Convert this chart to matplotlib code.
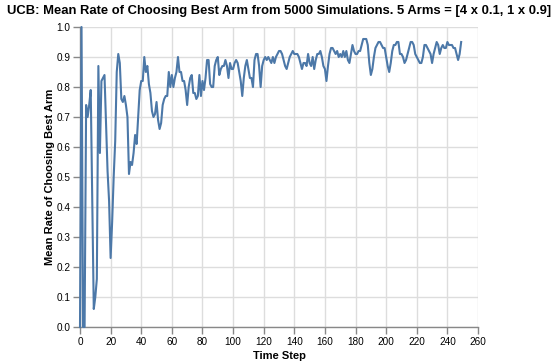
import numpy as np
import matplotlib.pyplot as plt

# mean rate of choosing the best arm (t = 0..249)
rate = [
    0.00, 1.00, 0.00, 0.00, 0.74, 0.70, 0.74, 0.79, 0.42, 0.06,
    0.10, 0.16, 0.87, 0.58, 0.82, 0.83, 0.84, 0.68, 0.52, 0.42,
    0.23, 0.35, 0.50, 0.62, 0.85, 0.91, 0.88, 0.76, 0.75, 0.77,
    0.74, 0.70, 0.51, 0.55, 0.54, 0.58, 0.64, 0.61, 0.70, 0.79,
    0.82, 0.82, 0.90, 0.85, 0.87, 0.81, 0.78, 0.72, 0.70, 0.71,
    0.75, 0.69, 0.66, 0.68, 0.74, 0.76, 0.77, 0.77, 0.85, 0.80,
    0.84, 0.80, 0.83, 0.85, 0.90, 0.85, 0.85, 0.82, 0.82, 0.79,
    0.74, 0.80, 0.83, 0.84, 0.78, 0.78, 0.76, 0.77, 0.84, 0.77,
    0.82, 0.79, 0.83, 0.89, 0.89, 0.81, 0.80, 0.80, 0.87, 0.89,
    0.90, 0.84, 0.86, 0.87, 0.87, 0.89, 0.87, 0.83, 0.88, 0.86,
    0.86, 0.88, 0.89, 0.88, 0.85, 0.82, 0.77, 0.83, 0.87, 0.89,
    0.86, 0.83, 0.83, 0.80, 0.89, 0.91, 0.91, 0.87, 0.80, 0.87,
    0.89, 0.90, 0.89, 0.90, 0.89, 0.88, 0.90, 0.88, 0.90, 0.91,
    0.92, 0.92, 0.91, 0.89, 0.87, 0.86, 0.88, 0.90, 0.91, 0.92,
    0.91, 0.91, 0.91, 0.90, 0.88, 0.86, 0.88, 0.88, 0.87, 0.91,
    0.88, 0.87, 0.90, 0.86, 0.89, 0.91, 0.91, 0.92, 0.90, 0.87,
    0.86, 0.82, 0.87, 0.91, 0.93, 0.93, 0.92, 0.91, 0.92, 0.90,
    0.91, 0.90, 0.92, 0.90, 0.92, 0.89, 0.88, 0.91, 0.94, 0.92,
    0.91, 0.91, 0.92, 0.92, 0.94, 0.96, 0.96, 0.96, 0.94, 0.88,
    0.84, 0.86, 0.90, 0.93, 0.94, 0.95, 0.95, 0.94, 0.93, 0.93,
    0.90, 0.87, 0.85, 0.88, 0.92, 0.94, 0.94, 0.95, 0.95, 0.91,
    0.91, 0.90, 0.88, 0.89, 0.91, 0.93, 0.95, 0.95, 0.94, 0.91,
    0.90, 0.89, 0.88, 0.88, 0.90, 0.94, 0.94, 0.93, 0.92, 0.91,
    0.88, 0.91, 0.93, 0.95, 0.94, 0.91, 0.93, 0.94, 0.93, 0.93,
    0.95, 0.94, 0.94, 0.94, 0.93, 0.93, 0.91, 0.89, 0.91, 0.95,
]
time_step = np.arange(len(rate))

x_ticks = np.arange(0, 261, 20)
y_ticks = np.round(np.arange(0, 1.01, 0.1), 1)

title = "UCB: Mean Rate of Choosing Best Arm from 5000 Simulations. 5 Arms = [4 x 0.1, 1 x 0.9]"

plt.rcParams['font.family'] = ['Liberation Sans', 'DejaVu Sans']

fig = plt.figure(figsize=(5.56, 3.64), dpi=100)
ax = fig.add_axes([80 / 556, 1 - 327 / 364, 398 / 556, 300 / 364])

ax.plot(time_step, rate, color='#4c78a8', lw=1.5, clip_on=False, zorder=3)

ax.set_xlim(0, 260)
ax.set_ylim(0, 1)
ax.set_xticks(x_ticks)
ax.set_yticks(y_ticks)
ax.set_yticklabels([f"{v:.1f}" for v in y_ticks])
ax.grid(True, color='#dddddd', lw=1)
ax.set_axisbelow(True)

for s in ['top', 'right']:
    ax.spines[s].set_visible(False)
for s in ['left', 'bottom']:
    ax.spines[s].set_color('#888888')
    ax.spines[s].set_linewidth(1)
ax.tick_params(colors='#888888', length=5, width=1, labelsize=7.2, labelcolor='#000000', pad=2)

ax.set_xlabel("Time Step", fontsize=8, fontweight='bold', labelpad=3)
ax.set_ylabel("Mean Rate of Choosing Best Arm", fontsize=8, fontweight='bold', labelpad=1)

fig.text(279 / 556, 1 - 11 / 364, title, ha='center', va='center', fontsize=9.4, fontweight='bold')

fig.savefig('out.png', dpi=100)
